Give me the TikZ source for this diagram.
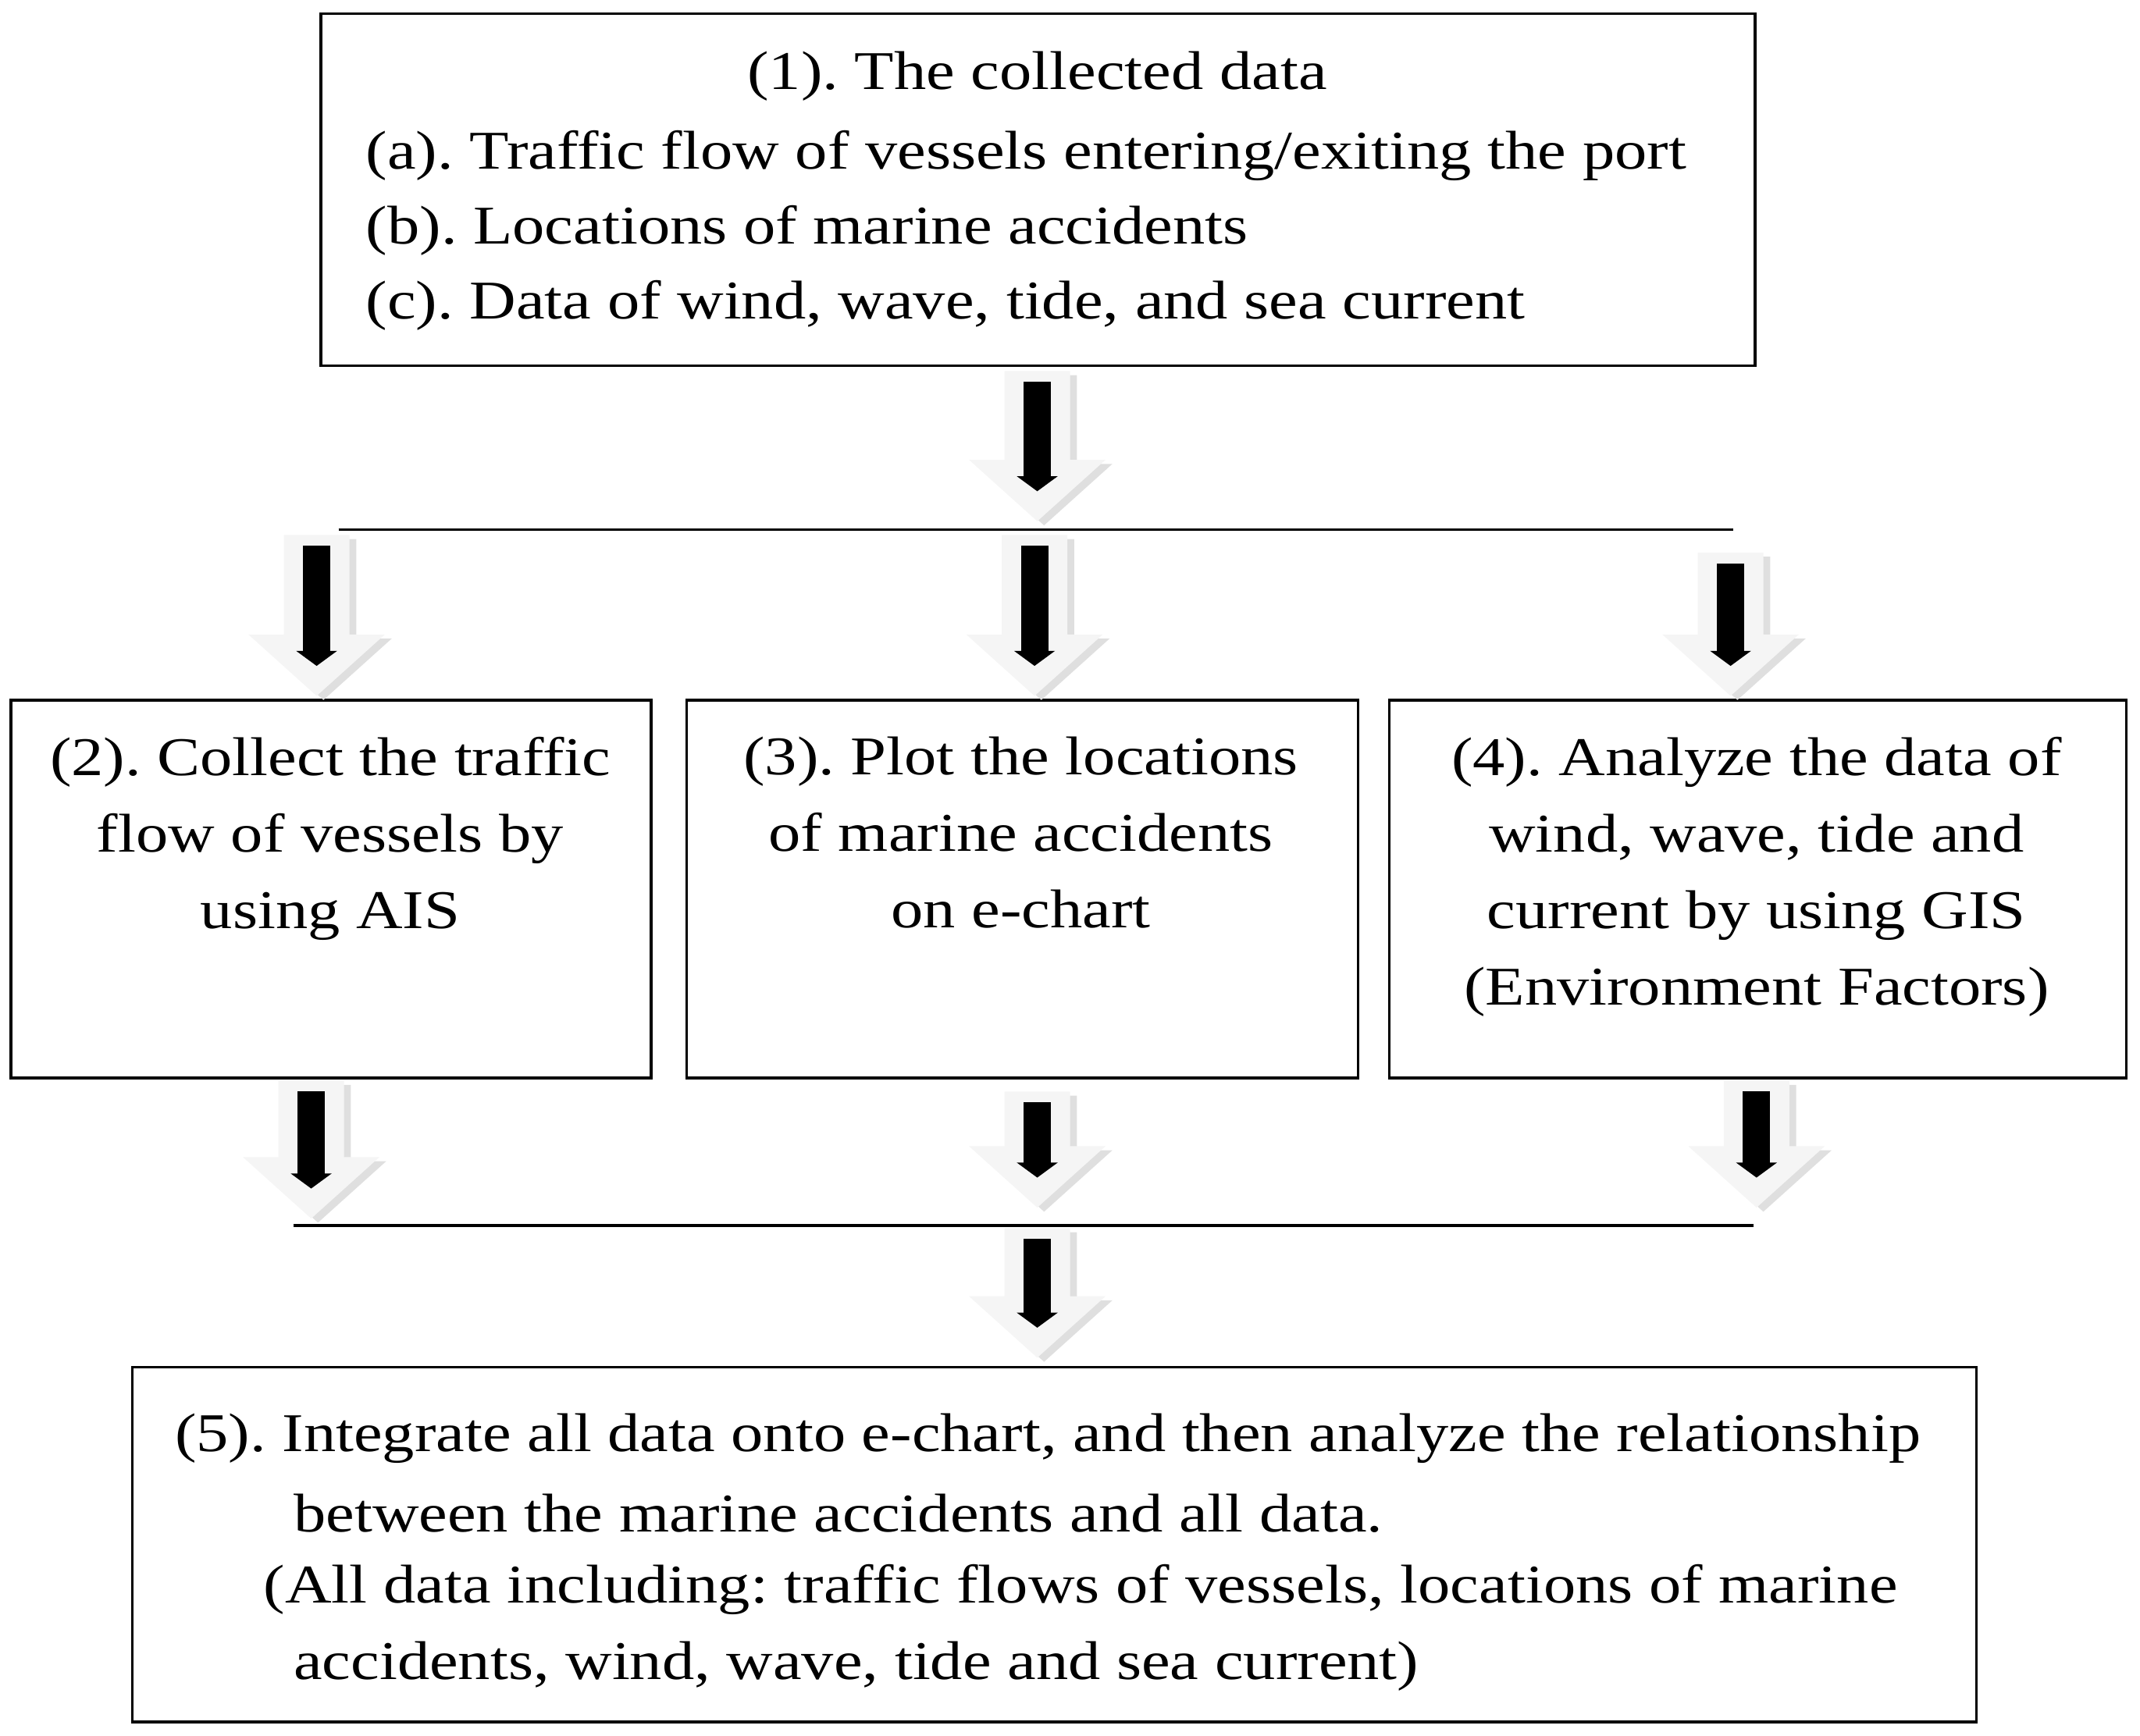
\documentclass[tikz,border=0pt]{standalone}
\usepackage{fontspec}
\setmainfont{Liberation Serif}[FakeStretch=1.18]
\frenchspacing
\begin{document}
\begin{tikzpicture}[x=1pt,y=-1pt,
  box/.style={draw,line width=2pt},
  txt/.style={font=\fontsize{40}{56}\selectfont,inner sep=0pt},
  hl/.style={line width=2pt}]
\useasboundingbox (0,0) rectangle (1568,1272);
\newcommand\garrow[3]{%
  \fill[gray!25] ({#1-24+5},{#2+3}) -- ({#1+24+5},{#2+3}) -- ({#1+24+5},{#3-45+3}) -- ({#1+50+5},{#3-45+3}) -- ({#1+5},{#3+3}) -- ({#1-50+5},{#3-45+3}) -- ({#1-24+5},{#3-45+3}) -- cycle;
  \fill[gray!8] ({#1-24},#2) -- ({#1+24},#2) -- ({#1+24},{#3-45}) -- ({#1+50},{#3-45}) -- (#1,#3) -- ({#1-50},{#3-45}) -- ({#1-24},{#3-45}) -- cycle;
  \fill[black] ({#1-10},{#2+8}) rectangle ({#1+10},{#3-32});
  \fill[black] ({#1-15},{#3-33}) -- ({#1+15},{#3-33}) -- (#1,{#3-22}) -- cycle;}
% boxes
\draw[box] (235,10) rectangle (1286,268);
\node[txt] (t1) at (760,56) {(1). The collected data};
\node[txt,anchor=west] (t1a) at (268,114) {(a). Traffic flow of vessels entering/exiting the port};
\node[txt,anchor=west] (t1b) at (268,169) {(b). Locations of marine accidents};
\node[txt,anchor=west] (t1c) at (268,224) {(c). Data of wind, wave, tide, and sea current};
\draw[box] (8,513) rectangle (477,790);
\draw[box] (503,513) rectangle (995,790);
\draw[box] (1018,513) rectangle (1558,790);
\node[txt,align=center,anchor=north] (t2) at (242,540) {(2). Collect the traffic\\flow of vessels by\\using AIS};
\node[txt,align=center,anchor=north] (t3) at (748,540) {(3). Plot the locations\\of marine accidents\\on e-chart};
\node[txt,align=center,anchor=north] (t4) at (1287,540) {(4). Analyze the data of\\wind, wave, tide and\\current by using GIS\\(Environment Factors)};
\draw[box] (97,1002) rectangle (1448,1262);
\node[txt,anchor=west] (t5a) at (128,1054) {(5). Integrate all data onto e-chart, and then analyze the relationship};
\node[txt,anchor=west] (t5b) at (215,1109) {between the marine accidents and all data.};
\node[txt,anchor=west] (t5c) at (193,1165) {(All data including: traffic flows of vessels, locations of marine};
\node[txt,anchor=west] (t5d) at (215,1221) {accidents, wind, wave, tide and sea current)};
% lines
\draw[hl] (248,388) -- (1270,388);
\draw[hl] (215,898) -- (1285,898);
% arrows
\garrow{760}{272}{382}
\garrow{232}{392}{510}
\garrow{758}{392}{510}
\garrow{1268}{405}{510}
\garrow{228}{792}{893}
\garrow{760}{800}{885}
\garrow{1287}{792}{885}
\garrow{760}{900}{995}
\end{tikzpicture}
\end{document}
